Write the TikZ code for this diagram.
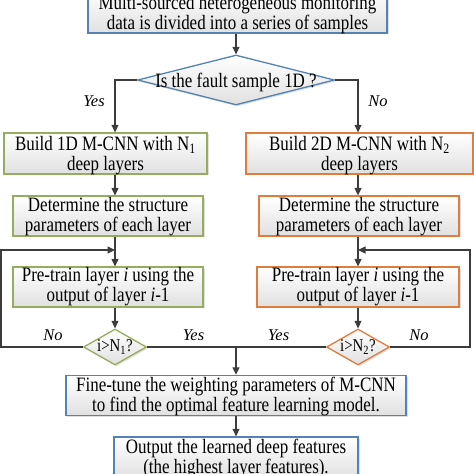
\documentclass[tikz,border=0pt]{standalone}
\usepackage{fontspec}
\setmainfont{Liberation Serif}[FakeStretch=0.83]
\newfontfamily\labfont{Liberation Serif}
\usetikzlibrary{shapes.geometric,shadows,arrows.meta}
\definecolor{bblue}{RGB}{84,130,180}
\definecolor{bgreen}{RGB}{150,172,95}
\definecolor{borange}{RGB}{225,125,60}
\definecolor{lnk}{RGB}{60,60,60}
\newcommand\tx[2]{\raisebox{-#1bp}[\height][\depth]{\begin{tabular}{@{}c@{}}#2\end{tabular}}}
\newcommand\dtx[2]{\makebox[0pt]{\raisebox{-#1bp}[\height][\depth]{#2}}}
\begin{document}
\begin{tikzpicture}[x=1bp,y=-1bp,
  every node/.style={font=\fontsize{20.5}{19}\selectfont},
  box/.style={rectangle, draw=#1, line width=1.3bp, top color=white, bottom color=black!12,
    drop shadow={opacity=0.25,shadow xshift=1.5bp,shadow yshift=-1.5bp}, inner sep=0pt},
  dia/.style={diamond, draw=#1, line width=1.3bp, top color=white, bottom color=black!12,
    drop shadow={opacity=0.25,shadow xshift=1.5bp,shadow yshift=-1.5bp}, inner sep=0pt},
  lab/.style={font=\labfont\fontsize{16.5}{18}\selectfont\itshape},
  ln/.style={draw=lnk, line width=1.2bp},
  arr/.style={ln, -{Triangle[length=7.5bp,width=7bp]}},
]
\useasboundingbox (0,0) rectangle (474,474);
\coordinate (colL) at (115,0);
\coordinate (colR) at (358,0);

\node[box=bblue, minimum width=299bp, minimum height=43bp] (top) at (237.5,11.5)
  {\tx{3.9}{Multi-sourced heterogeneous monitoring\\data is divided into a series of samples}};
\node[dia=bblue, minimum width=197bp, minimum height=50bp] (d1) at (236,80)
  {\dtx{2.7}{Is the fault sample 1D ?}};

\node[box=bgreen, minimum width=203bp, minimum height=41bp] (b1) at (105.5,153.5)
  {\tx{2.9}{Build 1D M-CNN with N\textsubscript{1}\\deep layers}};
\node[box=borange, minimum width=227bp, minimum height=41bp] (b2) at (359.5,153.5)
  {\tx{2.9}{Build 2D M-CNN with N\textsubscript{2}\\deep layers}};

\node[box=bgreen, minimum width=190bp, minimum height=38bp] (s1) at (108,216)
  {\tx{1.4}{Determine the structure\\parameters of each layer}};
\node[box=borange, minimum width=200bp, minimum height=38bp] (s2) at (359,216)
  {\tx{1.4}{Determine the structure\\parameters of each layer}};

\node[box=bgreen, minimum width=190bp, minimum height=36bp] (p1) at (108,287)
  {\tx{0.2}{Pre-train layer \textit{i} using the\\output of layer \textit{i}-1}};
\node[box=borange, minimum width=202bp, minimum height=36bp] (p2) at (358,287)
  {\tx{0.2}{Pre-train layer \textit{i} using the\\output of layer \textit{i}-1}};

\node[dia=bgreen, minimum width=63bp, minimum height=36bp] (q1) at (115,347)
  {\dtx{0}{\fontsize{18}{18}\selectfont i>N\textsubscript{1}?}};
\node[dia=borange, minimum width=63bp, minimum height=36bp] (q2) at (358,347)
  {\dtx{0}{\fontsize{18}{18}\selectfont i>N\textsubscript{2}?}};

\node[box=bblue, minimum width=340bp, minimum height=39bp] (ft) at (236,395.5)
  {\tx{1.9}{Fine-tune the weighting parameters of M-CNN\\to find the optimal feature learning model.}};
\node[box=bblue, minimum width=244bp, minimum height=42bp] (out) at (236,458)
  {\tx{1}{Output the learned deep features\\(the highest layer features).}};

\coordinate (m) at (236,347);
\coordinate (lx) at (1,347);
\coordinate (rx) at (470,347);
\coordinate (loopL) at (115,250);
\coordinate (loopR) at (358,250);

\draw[arr] (top.south -| d1) -- (d1.north);
\draw[arr] (d1.west) -| (b1.north -| colL);
\draw[arr] (d1.east) -| (b2.north -| colR);
\draw[arr] (b1.south -| colL) -- (s1.north -| colL);
\draw[arr] (b2.south -| colR) -- (s2.north -| colR);
\draw[arr] (s1.south -| colL) -- (p1.north -| colL);
\draw[arr] (s2.south -| colR) -- (p2.north -| colR);
\draw[arr] (p1.south -| colL) -- (q1.north);
\draw[arr] (p2.south -| colR) -- (q2.north);
\draw[arr] (q1.west) -- (lx) |- (loopL);
\draw[arr] (q2.east) -- (rx) |- (loopR);
\draw[ln] (q1.east) -- (q2.west);
\draw[arr] (m) -- (ft.north);
\draw[arr] (ft.south -| out) -- (out.north);

\node[lab] (y1) at (94,101.5) {Yes};
\node[lab] (n1) at (378,101.5) {No};
\node[lab] (n2) at (53,335) {No};
\node[lab] (y2) at (193.5,335) {Yes};
\node[lab] (y3) at (278.5,335) {Yes};
\node[lab] (n3) at (419,335) {No};
\end{tikzpicture}
\end{document}
